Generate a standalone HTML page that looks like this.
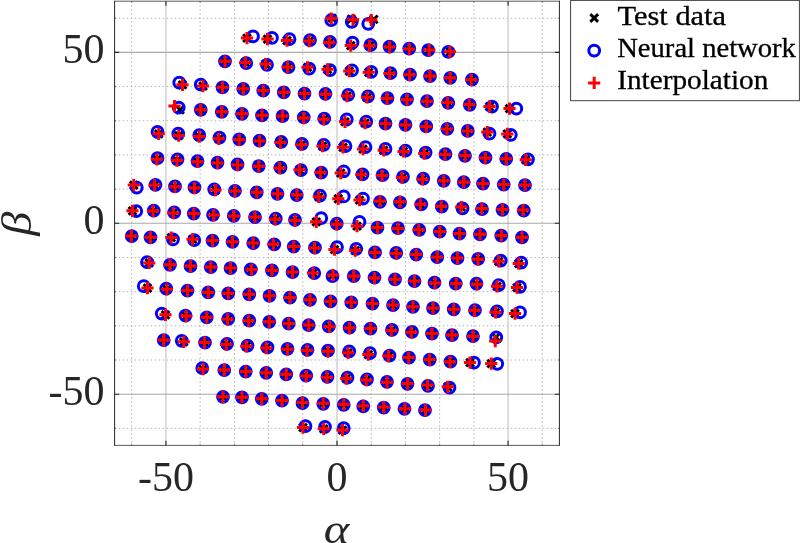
<!DOCTYPE html>
<html><head><meta charset="utf-8"><title>plot</title>
<style>html,body{margin:0;padding:0;background:#fff}svg{display:block}text{font-family:"Liberation Serif",serif;fill:#262626}</style></head>
<body>
<svg width="800" height="543" viewBox="0 0 800 543">
<rect width="800" height="543" fill="#fff"/>
<g stroke="#a6a6a6" stroke-width="0.8" stroke-dasharray="1.6 2.4" fill="none">
<path d="M131.71 1.2V445.4"/>
<path d="M114.6 428.38H559.4"/>
<path d="M200.14 1.2V445.4"/>
<path d="M114.6 360.02H559.4"/>
<path d="M234.36 1.2V445.4"/>
<path d="M114.6 325.84H559.4"/>
<path d="M268.57 1.2V445.4"/>
<path d="M114.6 291.66H559.4"/>
<path d="M302.78 1.2V445.4"/>
<path d="M114.6 257.48H559.4"/>
<path d="M371.22 1.2V445.4"/>
<path d="M114.6 189.12H559.4"/>
<path d="M405.43 1.2V445.4"/>
<path d="M114.6 154.94H559.4"/>
<path d="M439.64 1.2V445.4"/>
<path d="M114.6 120.76H559.4"/>
<path d="M473.86 1.2V445.4"/>
<path d="M114.6 86.58H559.4"/>
<path d="M542.29 1.2V445.4"/>
<path d="M114.6 18.22H559.4"/>
</g>
<g stroke="#c6c6c6" stroke-width="1.2" fill="none">
<path d="M165.93 1.2V445.4"/>
<path d="M337.00 1.2V445.4"/>
<path d="M508.07 1.2V445.4"/>
</g>
<g stroke="#a9a9a9" stroke-width="1.1" fill="none">
<path d="M114.6 394.20H559.4"/>
<path d="M114.6 223.30H559.4"/>
<path d="M114.6 52.40H559.4"/>
</g>
<path d="M328.10 14.20l7.8 7.8m0 -7.8l-7.8 7.8M347.60 15.20l7.8 7.8m0 -7.8l-7.8 7.8M369.85 15.45l7.8 7.8m0 -7.8l-7.8 7.8M243.10 34.20l7.8 7.8m0 -7.8l-7.8 7.8M263.60 35.20l7.8 7.8m0 -7.8l-7.8 7.8M283.10 36.70l7.8 7.8m0 -7.8l-7.8 7.8M305.35 37.20l7.8 7.8m0 -7.8l-7.8 7.8M325.35 38.70l7.8 7.8m0 -7.8l-7.8 7.8M346.85 41.70l7.8 7.8m0 -7.8l-7.8 7.8M365.60 41.90l7.8 7.8m0 -7.8l-7.8 7.8M385.60 43.20l7.8 7.8m0 -7.8l-7.8 7.8M405.35 45.20l7.8 7.8m0 -7.8l-7.8 7.8M425.35 46.20l7.8 7.8m0 -7.8l-7.8 7.8M446.10 47.95l7.8 7.8m0 -7.8l-7.8 7.8M221.10 57.45l7.8 7.8m0 -7.8l-7.8 7.8M241.30 58.50l7.8 7.8m0 -7.8l-7.8 7.8M261.70 60.20l7.8 7.8m0 -7.8l-7.8 7.8M283.60 63.20l7.8 7.8m0 -7.8l-7.8 7.8M303.60 63.45l7.8 7.8m0 -7.8l-7.8 7.8M323.60 65.45l7.8 7.8m0 -7.8l-7.8 7.8M345.35 67.20l7.8 7.8m0 -7.8l-7.8 7.8M364.85 68.45l7.8 7.8m0 -7.8l-7.8 7.8M385.60 69.70l7.8 7.8m0 -7.8l-7.8 7.8M405.60 70.95l7.8 7.8m0 -7.8l-7.8 7.8M426.10 72.20l7.8 7.8m0 -7.8l-7.8 7.8M446.35 73.95l7.8 7.8m0 -7.8l-7.8 7.8M467.35 75.95l7.8 7.8m0 -7.8l-7.8 7.8M178.60 80.95l7.8 7.8m0 -7.8l-7.8 7.8M199.10 82.20l7.8 7.8m0 -7.8l-7.8 7.8M218.60 83.45l7.8 7.8m0 -7.8l-7.8 7.8M239.35 84.95l7.8 7.8m0 -7.8l-7.8 7.8M259.35 86.70l7.8 7.8m0 -7.8l-7.8 7.8M279.85 88.45l7.8 7.8m0 -7.8l-7.8 7.8M300.60 89.70l7.8 7.8m0 -7.8l-7.8 7.8M321.60 90.45l7.8 7.8m0 -7.8l-7.8 7.8M343.10 92.20l7.8 7.8m0 -7.8l-7.8 7.8M363.10 93.45l7.8 7.8m0 -7.8l-7.8 7.8M383.10 94.70l7.8 7.8m0 -7.8l-7.8 7.8M403.10 95.95l7.8 7.8m0 -7.8l-7.8 7.8M423.10 97.45l7.8 7.8m0 -7.8l-7.8 7.8M443.60 98.70l7.8 7.8m0 -7.8l-7.8 7.8M465.35 100.70l7.8 7.8m0 -7.8l-7.8 7.8M485.60 102.70l7.8 7.8m0 -7.8l-7.8 7.8M505.60 104.70l7.8 7.8m0 -7.8l-7.8 7.8M176.10 105.95l7.8 7.8m0 -7.8l-7.8 7.8M196.85 105.95l7.8 7.8m0 -7.8l-7.8 7.8M217.85 107.95l7.8 7.8m0 -7.8l-7.8 7.8M238.10 109.95l7.8 7.8m0 -7.8l-7.8 7.8M258.10 111.45l7.8 7.8m0 -7.8l-7.8 7.8M278.60 112.20l7.8 7.8m0 -7.8l-7.8 7.8M299.85 114.20l7.8 7.8m0 -7.8l-7.8 7.8M319.85 115.45l7.8 7.8m0 -7.8l-7.8 7.8M341.10 117.95l7.8 7.8m0 -7.8l-7.8 7.8M361.10 119.20l7.8 7.8m0 -7.8l-7.8 7.8M381.60 119.95l7.8 7.8m0 -7.8l-7.8 7.8M401.60 121.20l7.8 7.8m0 -7.8l-7.8 7.8M422.35 122.95l7.8 7.8m0 -7.8l-7.8 7.8M443.10 125.20l7.8 7.8m0 -7.8l-7.8 7.8M463.60 127.20l7.8 7.8m0 -7.8l-7.8 7.8M483.40 128.20l7.8 7.8m0 -7.8l-7.8 7.8M503.40 130.00l7.8 7.8m0 -7.8l-7.8 7.8M154.85 129.95l7.8 7.8m0 -7.8l-7.8 7.8M174.85 131.70l7.8 7.8m0 -7.8l-7.8 7.8M195.35 132.70l7.8 7.8m0 -7.8l-7.8 7.8M214.85 134.95l7.8 7.8m0 -7.8l-7.8 7.8M235.35 135.95l7.8 7.8m0 -7.8l-7.8 7.8M255.60 137.20l7.8 7.8m0 -7.8l-7.8 7.8M276.60 138.70l7.8 7.8m0 -7.8l-7.8 7.8M297.35 140.95l7.8 7.8m0 -7.8l-7.8 7.8M318.60 142.20l7.8 7.8m0 -7.8l-7.8 7.8M339.10 143.45l7.8 7.8m0 -7.8l-7.8 7.8M359.10 145.20l7.8 7.8m0 -7.8l-7.8 7.8M379.80 146.40l7.8 7.8m0 -7.8l-7.8 7.8M399.70 147.50l7.8 7.8m0 -7.8l-7.8 7.8M420.35 149.70l7.8 7.8m0 -7.8l-7.8 7.8M441.10 150.70l7.8 7.8m0 -7.8l-7.8 7.8M461.10 151.70l7.8 7.8m0 -7.8l-7.8 7.8M481.35 154.20l7.8 7.8m0 -7.8l-7.8 7.8M502.35 154.95l7.8 7.8m0 -7.8l-7.8 7.8M521.85 155.95l7.8 7.8m0 -7.8l-7.8 7.8M153.10 155.45l7.8 7.8m0 -7.8l-7.8 7.8M173.10 156.70l7.8 7.8m0 -7.8l-7.8 7.8M193.60 157.95l7.8 7.8m0 -7.8l-7.8 7.8M213.60 159.20l7.8 7.8m0 -7.8l-7.8 7.8M233.60 161.20l7.8 7.8m0 -7.8l-7.8 7.8M254.85 162.45l7.8 7.8m0 -7.8l-7.8 7.8M275.60 164.20l7.8 7.8m0 -7.8l-7.8 7.8M295.60 165.95l7.8 7.8m0 -7.8l-7.8 7.8M316.60 168.70l7.8 7.8m0 -7.8l-7.8 7.8M336.85 169.20l7.8 7.8m0 -7.8l-7.8 7.8M357.35 170.95l7.8 7.8m0 -7.8l-7.8 7.8M378.10 171.70l7.8 7.8m0 -7.8l-7.8 7.8M398.10 173.70l7.8 7.8m0 -7.8l-7.8 7.8M418.60 175.45l7.8 7.8m0 -7.8l-7.8 7.8M439.85 176.95l7.8 7.8m0 -7.8l-7.8 7.8M459.85 178.20l7.8 7.8m0 -7.8l-7.8 7.8M479.10 179.70l7.8 7.8m0 -7.8l-7.8 7.8M499.85 180.70l7.8 7.8m0 -7.8l-7.8 7.8M521.10 181.20l7.8 7.8m0 -7.8l-7.8 7.8M129.85 181.20l7.8 7.8m0 -7.8l-7.8 7.8M150.60 181.20l7.8 7.8m0 -7.8l-7.8 7.8M171.10 182.95l7.8 7.8m0 -7.8l-7.8 7.8M190.60 184.20l7.8 7.8m0 -7.8l-7.8 7.8M211.60 186.20l7.8 7.8m0 -7.8l-7.8 7.8M231.10 187.20l7.8 7.8m0 -7.8l-7.8 7.8M252.85 188.45l7.8 7.8m0 -7.8l-7.8 7.8M273.60 189.95l7.8 7.8m0 -7.8l-7.8 7.8M293.10 190.95l7.8 7.8m0 -7.8l-7.8 7.8M314.85 192.95l7.8 7.8m0 -7.8l-7.8 7.8M334.35 194.90l7.8 7.8m0 -7.8l-7.8 7.8M355.60 196.20l7.8 7.8m0 -7.8l-7.8 7.8M376.10 197.20l7.8 7.8m0 -7.8l-7.8 7.8M396.10 197.95l7.8 7.8m0 -7.8l-7.8 7.8M416.60 200.45l7.8 7.8m0 -7.8l-7.8 7.8M437.35 202.45l7.8 7.8m0 -7.8l-7.8 7.8M457.35 203.20l7.8 7.8m0 -7.8l-7.8 7.8M477.85 204.70l7.8 7.8m0 -7.8l-7.8 7.8M498.60 205.45l7.8 7.8m0 -7.8l-7.8 7.8M519.10 206.20l7.8 7.8m0 -7.8l-7.8 7.8M128.60 206.95l7.8 7.8m0 -7.8l-7.8 7.8M149.10 207.20l7.8 7.8m0 -7.8l-7.8 7.8M169.35 209.20l7.8 7.8m0 -7.8l-7.8 7.8M189.85 209.70l7.8 7.8m0 -7.8l-7.8 7.8M209.85 211.20l7.8 7.8m0 -7.8l-7.8 7.8M229.85 212.20l7.8 7.8m0 -7.8l-7.8 7.8M251.10 213.20l7.8 7.8m0 -7.8l-7.8 7.8M271.10 215.45l7.8 7.8m0 -7.8l-7.8 7.8M291.10 216.70l7.8 7.8m0 -7.8l-7.8 7.8M312.35 217.95l7.8 7.8m0 -7.8l-7.8 7.8M332.85 220.45l7.8 7.8m0 -7.8l-7.8 7.8M353.10 222.20l7.8 7.8m0 -7.8l-7.8 7.8M373.60 223.70l7.8 7.8m0 -7.8l-7.8 7.8M394.10 224.70l7.8 7.8m0 -7.8l-7.8 7.8M414.85 225.95l7.8 7.8m0 -7.8l-7.8 7.8M435.85 227.70l7.8 7.8m0 -7.8l-7.8 7.8M455.60 229.70l7.8 7.8m0 -7.8l-7.8 7.8M476.10 230.45l7.8 7.8m0 -7.8l-7.8 7.8M497.35 231.70l7.8 7.8m0 -7.8l-7.8 7.8M518.10 233.45l7.8 7.8m0 -7.8l-7.8 7.8M127.35 232.20l7.8 7.8m0 -7.8l-7.8 7.8M146.60 233.45l7.8 7.8m0 -7.8l-7.8 7.8M167.35 233.70l7.8 7.8m0 -7.8l-7.8 7.8M188.60 235.45l7.8 7.8m0 -7.8l-7.8 7.8M208.60 236.70l7.8 7.8m0 -7.8l-7.8 7.8M228.60 237.95l7.8 7.8m0 -7.8l-7.8 7.8M249.35 239.20l7.8 7.8m0 -7.8l-7.8 7.8M269.35 240.45l7.8 7.8m0 -7.8l-7.8 7.8M289.85 242.70l7.8 7.8m0 -7.8l-7.8 7.8M310.60 244.20l7.8 7.8m0 -7.8l-7.8 7.8M330.60 245.70l7.8 7.8m0 -7.8l-7.8 7.8M351.35 246.70l7.8 7.8m0 -7.8l-7.8 7.8M371.10 248.70l7.8 7.8m0 -7.8l-7.8 7.8M392.35 249.70l7.8 7.8m0 -7.8l-7.8 7.8M412.35 250.70l7.8 7.8m0 -7.8l-7.8 7.8M433.35 253.20l7.8 7.8m0 -7.8l-7.8 7.8M453.60 254.20l7.8 7.8m0 -7.8l-7.8 7.8M474.10 255.45l7.8 7.8m0 -7.8l-7.8 7.8M494.85 257.45l7.8 7.8m0 -7.8l-7.8 7.8M514.85 259.70l7.8 7.8m0 -7.8l-7.8 7.8M145.30 259.00l7.8 7.8m0 -7.8l-7.8 7.8M166.10 260.95l7.8 7.8m0 -7.8l-7.8 7.8M186.60 262.20l7.8 7.8m0 -7.8l-7.8 7.8M206.85 263.20l7.8 7.8m0 -7.8l-7.8 7.8M226.60 264.20l7.8 7.8m0 -7.8l-7.8 7.8M247.60 265.70l7.8 7.8m0 -7.8l-7.8 7.8M268.10 266.45l7.8 7.8m0 -7.8l-7.8 7.8M288.60 268.20l7.8 7.8m0 -7.8l-7.8 7.8M309.10 269.20l7.8 7.8m0 -7.8l-7.8 7.8M329.10 271.20l7.8 7.8m0 -7.8l-7.8 7.8M349.85 272.20l7.8 7.8m0 -7.8l-7.8 7.8M370.60 274.20l7.8 7.8m0 -7.8l-7.8 7.8M391.10 275.45l7.8 7.8m0 -7.8l-7.8 7.8M410.60 277.20l7.8 7.8m0 -7.8l-7.8 7.8M431.10 279.20l7.8 7.8m0 -7.8l-7.8 7.8M452.35 279.70l7.8 7.8m0 -7.8l-7.8 7.8M473.10 280.45l7.8 7.8m0 -7.8l-7.8 7.8M493.10 282.45l7.8 7.8m0 -7.8l-7.8 7.8M513.10 283.70l7.8 7.8m0 -7.8l-7.8 7.8M143.60 284.20l7.8 7.8m0 -7.8l-7.8 7.8M163.10 285.45l7.8 7.8m0 -7.8l-7.8 7.8M183.60 286.70l7.8 7.8m0 -7.8l-7.8 7.8M204.35 288.45l7.8 7.8m0 -7.8l-7.8 7.8M224.35 289.45l7.8 7.8m0 -7.8l-7.8 7.8M245.35 290.45l7.8 7.8m0 -7.8l-7.8 7.8M265.60 291.95l7.8 7.8m0 -7.8l-7.8 7.8M286.10 293.70l7.8 7.8m0 -7.8l-7.8 7.8M306.10 295.95l7.8 7.8m0 -7.8l-7.8 7.8M326.60 297.45l7.8 7.8m0 -7.8l-7.8 7.8M347.35 298.45l7.8 7.8m0 -7.8l-7.8 7.8M368.60 299.70l7.8 7.8m0 -7.8l-7.8 7.8M389.10 301.20l7.8 7.8m0 -7.8l-7.8 7.8M409.10 302.95l7.8 7.8m0 -7.8l-7.8 7.8M429.10 304.20l7.8 7.8m0 -7.8l-7.8 7.8M449.85 305.45l7.8 7.8m0 -7.8l-7.8 7.8M470.60 306.70l7.8 7.8m0 -7.8l-7.8 7.8M491.60 308.45l7.8 7.8m0 -7.8l-7.8 7.8M511.10 309.70l7.8 7.8m0 -7.8l-7.8 7.8M161.60 310.95l7.8 7.8m0 -7.8l-7.8 7.8M182.35 312.20l7.8 7.8m0 -7.8l-7.8 7.8M202.85 313.45l7.8 7.8m0 -7.8l-7.8 7.8M223.60 315.45l7.8 7.8m0 -7.8l-7.8 7.8M244.85 316.95l7.8 7.8m0 -7.8l-7.8 7.8M265.35 317.95l7.8 7.8m0 -7.8l-7.8 7.8M284.85 319.70l7.8 7.8m0 -7.8l-7.8 7.8M304.85 321.20l7.8 7.8m0 -7.8l-7.8 7.8M325.60 322.95l7.8 7.8m0 -7.8l-7.8 7.8M345.60 324.20l7.8 7.8m0 -7.8l-7.8 7.8M366.60 324.70l7.8 7.8m0 -7.8l-7.8 7.8M387.35 326.70l7.8 7.8m0 -7.8l-7.8 7.8M407.35 328.45l7.8 7.8m0 -7.8l-7.8 7.8M428.10 329.70l7.8 7.8m0 -7.8l-7.8 7.8M448.10 331.20l7.8 7.8m0 -7.8l-7.8 7.8M469.10 332.45l7.8 7.8m0 -7.8l-7.8 7.8M492.10 333.20l7.8 7.8m0 -7.8l-7.8 7.8M159.85 336.20l7.8 7.8m0 -7.8l-7.8 7.8M179.85 337.95l7.8 7.8m0 -7.8l-7.8 7.8M200.60 338.70l7.8 7.8m0 -7.8l-7.8 7.8M222.35 340.70l7.8 7.8m0 -7.8l-7.8 7.8M242.35 342.45l7.8 7.8m0 -7.8l-7.8 7.8M262.35 344.20l7.8 7.8m0 -7.8l-7.8 7.8M283.60 345.45l7.8 7.8m0 -7.8l-7.8 7.8M303.10 346.70l7.8 7.8m0 -7.8l-7.8 7.8M324.10 347.45l7.8 7.8m0 -7.8l-7.8 7.8M344.20 348.90l7.8 7.8m0 -7.8l-7.8 7.8M364.40 350.70l7.8 7.8m0 -7.8l-7.8 7.8M384.50 352.20l7.8 7.8m0 -7.8l-7.8 7.8M404.85 353.70l7.8 7.8m0 -7.8l-7.8 7.8M425.60 355.70l7.8 7.8m0 -7.8l-7.8 7.8M446.10 357.95l7.8 7.8m0 -7.8l-7.8 7.8M466.10 358.70l7.8 7.8m0 -7.8l-7.8 7.8M487.35 359.70l7.8 7.8m0 -7.8l-7.8 7.8M199.10 365.20l7.8 7.8m0 -7.8l-7.8 7.8M220.35 366.20l7.8 7.8m0 -7.8l-7.8 7.8M241.85 367.70l7.8 7.8m0 -7.8l-7.8 7.8M262.35 368.95l7.8 7.8m0 -7.8l-7.8 7.8M282.35 370.45l7.8 7.8m0 -7.8l-7.8 7.8M302.35 372.20l7.8 7.8m0 -7.8l-7.8 7.8M323.10 373.45l7.8 7.8m0 -7.8l-7.8 7.8M342.35 374.70l7.8 7.8m0 -7.8l-7.8 7.8M362.35 376.20l7.8 7.8m0 -7.8l-7.8 7.8M383.10 378.45l7.8 7.8m0 -7.8l-7.8 7.8M403.60 379.70l7.8 7.8m0 -7.8l-7.8 7.8M423.60 381.20l7.8 7.8m0 -7.8l-7.8 7.8M443.85 382.95l7.8 7.8m0 -7.8l-7.8 7.8M219.10 392.95l7.8 7.8m0 -7.8l-7.8 7.8M238.10 393.45l7.8 7.8m0 -7.8l-7.8 7.8M257.85 394.95l7.8 7.8m0 -7.8l-7.8 7.8M278.10 396.70l7.8 7.8m0 -7.8l-7.8 7.8M298.60 398.70l7.8 7.8m0 -7.8l-7.8 7.8M319.35 399.45l7.8 7.8m0 -7.8l-7.8 7.8M339.85 400.45l7.8 7.8m0 -7.8l-7.8 7.8M359.35 401.95l7.8 7.8m0 -7.8l-7.8 7.8M379.85 403.20l7.8 7.8m0 -7.8l-7.8 7.8M401.10 404.95l7.8 7.8m0 -7.8l-7.8 7.8M421.60 406.20l7.8 7.8m0 -7.8l-7.8 7.8M299.10 423.70l7.8 7.8m0 -7.8l-7.8 7.8M319.85 424.95l7.8 7.8m0 -7.8l-7.8 7.8M338.60 426.20l7.8 7.8m0 -7.8l-7.8 7.8" stroke="#000" stroke-width="2.9" fill="none"/>
<g stroke="#0000ff" stroke-width="3" fill="none">
<circle cx="331.25" cy="20.10" r="5.4"/>
<circle cx="351.75" cy="21.85" r="5.4"/>
<circle cx="368.25" cy="23.85" r="5.4"/>
<circle cx="253.00" cy="36.35" r="5.4"/>
<circle cx="272.00" cy="37.85" r="5.4"/>
<circle cx="289.50" cy="39.10" r="5.4"/>
<circle cx="310.00" cy="40.10" r="5.4"/>
<circle cx="330.00" cy="41.85" r="5.4"/>
<circle cx="352.50" cy="42.60" r="5.4"/>
<circle cx="370.50" cy="45.00" r="5.4"/>
<circle cx="389.50" cy="46.60" r="5.4"/>
<circle cx="409.25" cy="48.60" r="5.4"/>
<circle cx="428.25" cy="50.10" r="5.4"/>
<circle cx="448.25" cy="51.85" r="5.4"/>
<circle cx="225.00" cy="61.35" r="5.4"/>
<circle cx="246.25" cy="63.10" r="5.4"/>
<circle cx="267.00" cy="64.85" r="5.4"/>
<circle cx="288.50" cy="67.10" r="5.4"/>
<circle cx="309.25" cy="68.60" r="5.4"/>
<circle cx="330.00" cy="70.10" r="5.4"/>
<circle cx="352.00" cy="70.35" r="5.4"/>
<circle cx="371.25" cy="71.85" r="5.4"/>
<circle cx="390.50" cy="73.10" r="5.4"/>
<circle cx="410.00" cy="74.60" r="5.4"/>
<circle cx="430.00" cy="76.10" r="5.4"/>
<circle cx="450.25" cy="77.85" r="5.4"/>
<circle cx="472.00" cy="79.60" r="5.4"/>
<circle cx="179.25" cy="82.60" r="5.4"/>
<circle cx="200.75" cy="84.60" r="5.4"/>
<circle cx="222.50" cy="87.35" r="5.4"/>
<circle cx="243.25" cy="88.85" r="5.4"/>
<circle cx="263.25" cy="90.60" r="5.4"/>
<circle cx="283.75" cy="92.35" r="5.4"/>
<circle cx="304.50" cy="93.60" r="5.4"/>
<circle cx="325.50" cy="93.85" r="5.4"/>
<circle cx="348.25" cy="94.85" r="5.4"/>
<circle cx="368.00" cy="96.35" r="5.4"/>
<circle cx="387.50" cy="98.10" r="5.4"/>
<circle cx="407.00" cy="99.35" r="5.4"/>
<circle cx="427.00" cy="101.10" r="5.4"/>
<circle cx="448.25" cy="102.85" r="5.4"/>
<circle cx="469.75" cy="104.85" r="5.4"/>
<circle cx="492.00" cy="106.60" r="5.4"/>
<circle cx="516.30" cy="108.60" r="5.4"/>
<circle cx="178.75" cy="107.60" r="5.4"/>
<circle cx="200.75" cy="109.85" r="5.4"/>
<circle cx="221.75" cy="111.85" r="5.4"/>
<circle cx="242.00" cy="113.85" r="5.4"/>
<circle cx="262.00" cy="115.35" r="5.4"/>
<circle cx="282.50" cy="116.10" r="5.4"/>
<circle cx="303.75" cy="117.35" r="5.4"/>
<circle cx="324.25" cy="118.60" r="5.4"/>
<circle cx="346.75" cy="119.35" r="5.4"/>
<circle cx="366.25" cy="121.60" r="5.4"/>
<circle cx="385.50" cy="123.60" r="5.4"/>
<circle cx="405.50" cy="124.85" r="5.4"/>
<circle cx="426.25" cy="126.35" r="5.4"/>
<circle cx="447.30" cy="128.80" r="5.4"/>
<circle cx="467.80" cy="130.90" r="5.4"/>
<circle cx="489.50" cy="133.60" r="5.4"/>
<circle cx="510.80" cy="134.80" r="5.4"/>
<circle cx="157.50" cy="131.85" r="5.4"/>
<circle cx="178.25" cy="133.60" r="5.4"/>
<circle cx="199.25" cy="135.10" r="5.4"/>
<circle cx="219.50" cy="137.60" r="5.4"/>
<circle cx="239.25" cy="139.35" r="5.4"/>
<circle cx="259.50" cy="140.60" r="5.4"/>
<circle cx="281.25" cy="141.85" r="5.4"/>
<circle cx="302.00" cy="143.85" r="5.4"/>
<circle cx="323.75" cy="144.85" r="5.4"/>
<circle cx="345.50" cy="146.10" r="5.4"/>
<circle cx="365.50" cy="147.10" r="5.4"/>
<circle cx="385.50" cy="148.90" r="5.4"/>
<circle cx="405.50" cy="150.60" r="5.4"/>
<circle cx="425.60" cy="152.60" r="5.4"/>
<circle cx="445.50" cy="154.10" r="5.4"/>
<circle cx="465.00" cy="155.85" r="5.4"/>
<circle cx="485.50" cy="157.60" r="5.4"/>
<circle cx="506.25" cy="158.85" r="5.4"/>
<circle cx="528.00" cy="159.35" r="5.4"/>
<circle cx="157.50" cy="158.10" r="5.4"/>
<circle cx="177.50" cy="159.35" r="5.4"/>
<circle cx="197.50" cy="161.10" r="5.4"/>
<circle cx="217.50" cy="162.60" r="5.4"/>
<circle cx="237.50" cy="164.35" r="5.4"/>
<circle cx="258.75" cy="166.10" r="5.4"/>
<circle cx="280.50" cy="167.60" r="5.4"/>
<circle cx="301.00" cy="170.10" r="5.4"/>
<circle cx="321.25" cy="172.60" r="5.4"/>
<circle cx="343.75" cy="171.35" r="5.4"/>
<circle cx="362.50" cy="174.35" r="5.4"/>
<circle cx="382.50" cy="175.10" r="5.4"/>
<circle cx="403.00" cy="176.85" r="5.4"/>
<circle cx="423.25" cy="178.60" r="5.4"/>
<circle cx="443.75" cy="180.85" r="5.4"/>
<circle cx="463.75" cy="182.10" r="5.4"/>
<circle cx="483.00" cy="183.60" r="5.4"/>
<circle cx="503.75" cy="184.60" r="5.4"/>
<circle cx="525.00" cy="185.10" r="5.4"/>
<circle cx="136.75" cy="187.60" r="5.4"/>
<circle cx="155.50" cy="184.85" r="5.4"/>
<circle cx="175.00" cy="186.35" r="5.4"/>
<circle cx="194.50" cy="187.35" r="5.4"/>
<circle cx="214.25" cy="189.35" r="5.4"/>
<circle cx="235.00" cy="190.85" r="5.4"/>
<circle cx="256.75" cy="192.35" r="5.4"/>
<circle cx="277.50" cy="193.85" r="5.4"/>
<circle cx="296.75" cy="195.10" r="5.4"/>
<circle cx="320.00" cy="195.60" r="5.4"/>
<circle cx="343.75" cy="196.40" r="5.4"/>
<circle cx="363.00" cy="198.60" r="5.4"/>
<circle cx="380.00" cy="201.85" r="5.4"/>
<circle cx="400.00" cy="202.35" r="5.4"/>
<circle cx="421.25" cy="204.35" r="5.4"/>
<circle cx="441.75" cy="206.60" r="5.4"/>
<circle cx="462.50" cy="208.35" r="5.4"/>
<circle cx="482.00" cy="209.10" r="5.4"/>
<circle cx="502.50" cy="209.85" r="5.4"/>
<circle cx="523.75" cy="210.60" r="5.4"/>
<circle cx="136.25" cy="211.10" r="5.4"/>
<circle cx="153.75" cy="210.60" r="5.4"/>
<circle cx="174.25" cy="212.35" r="5.4"/>
<circle cx="193.75" cy="213.60" r="5.4"/>
<circle cx="213.00" cy="214.85" r="5.4"/>
<circle cx="233.75" cy="215.85" r="5.4"/>
<circle cx="255.00" cy="217.10" r="5.4"/>
<circle cx="275.75" cy="218.60" r="5.4"/>
<circle cx="295.00" cy="219.85" r="5.4"/>
<circle cx="321.25" cy="218.10" r="5.4"/>
<circle cx="336.75" cy="223.60" r="5.4"/>
<circle cx="359.50" cy="221.85" r="5.4"/>
<circle cx="377.50" cy="227.60" r="5.4"/>
<circle cx="398.00" cy="228.10" r="5.4"/>
<circle cx="419.25" cy="229.85" r="5.4"/>
<circle cx="439.75" cy="231.60" r="5.4"/>
<circle cx="459.50" cy="233.60" r="5.4"/>
<circle cx="480.00" cy="234.35" r="5.4"/>
<circle cx="501.25" cy="235.60" r="5.4"/>
<circle cx="522.00" cy="237.35" r="5.4"/>
<circle cx="131.75" cy="236.10" r="5.4"/>
<circle cx="150.50" cy="237.35" r="5.4"/>
<circle cx="173.00" cy="239.35" r="5.4"/>
<circle cx="194.25" cy="240.10" r="5.4"/>
<circle cx="212.50" cy="240.60" r="5.4"/>
<circle cx="232.50" cy="241.85" r="5.4"/>
<circle cx="253.25" cy="243.10" r="5.4"/>
<circle cx="274.25" cy="244.35" r="5.4"/>
<circle cx="293.75" cy="246.60" r="5.4"/>
<circle cx="315.00" cy="247.60" r="5.4"/>
<circle cx="337.00" cy="247.10" r="5.4"/>
<circle cx="356.25" cy="248.85" r="5.4"/>
<circle cx="375.00" cy="252.35" r="5.4"/>
<circle cx="396.25" cy="252.85" r="5.4"/>
<circle cx="416.25" cy="254.60" r="5.4"/>
<circle cx="437.25" cy="257.10" r="5.4"/>
<circle cx="457.50" cy="258.10" r="5.4"/>
<circle cx="478.25" cy="258.85" r="5.4"/>
<circle cx="500.75" cy="260.60" r="5.4"/>
<circle cx="521.25" cy="262.60" r="5.4"/>
<circle cx="147.00" cy="262.20" r="5.4"/>
<circle cx="170.00" cy="264.85" r="5.4"/>
<circle cx="190.50" cy="266.10" r="5.4"/>
<circle cx="210.75" cy="267.10" r="5.4"/>
<circle cx="230.50" cy="268.10" r="5.4"/>
<circle cx="250.75" cy="269.35" r="5.4"/>
<circle cx="272.00" cy="270.35" r="5.4"/>
<circle cx="292.50" cy="272.10" r="5.4"/>
<circle cx="314.25" cy="273.10" r="5.4"/>
<circle cx="332.50" cy="276.10" r="5.4"/>
<circle cx="353.75" cy="276.10" r="5.4"/>
<circle cx="374.50" cy="277.60" r="5.4"/>
<circle cx="395.00" cy="279.35" r="5.4"/>
<circle cx="414.50" cy="281.10" r="5.4"/>
<circle cx="434.50" cy="282.60" r="5.4"/>
<circle cx="455.75" cy="283.60" r="5.4"/>
<circle cx="476.50" cy="283.60" r="5.4"/>
<circle cx="498.75" cy="285.10" r="5.4"/>
<circle cx="520.00" cy="286.85" r="5.4"/>
<circle cx="143.75" cy="286.10" r="5.4"/>
<circle cx="166.25" cy="288.60" r="5.4"/>
<circle cx="187.50" cy="290.60" r="5.4"/>
<circle cx="208.25" cy="292.35" r="5.4"/>
<circle cx="228.25" cy="293.35" r="5.4"/>
<circle cx="249.25" cy="294.35" r="5.4"/>
<circle cx="269.50" cy="295.85" r="5.4"/>
<circle cx="290.00" cy="297.60" r="5.4"/>
<circle cx="310.00" cy="299.85" r="5.4"/>
<circle cx="330.50" cy="301.35" r="5.4"/>
<circle cx="351.25" cy="302.35" r="5.4"/>
<circle cx="372.50" cy="303.60" r="5.4"/>
<circle cx="393.00" cy="305.10" r="5.4"/>
<circle cx="413.00" cy="306.85" r="5.4"/>
<circle cx="433.00" cy="308.10" r="5.4"/>
<circle cx="453.75" cy="309.35" r="5.4"/>
<circle cx="475.00" cy="310.10" r="5.4"/>
<circle cx="497.00" cy="311.35" r="5.4"/>
<circle cx="520.00" cy="312.35" r="5.4"/>
<circle cx="161.75" cy="313.60" r="5.4"/>
<circle cx="185.50" cy="315.60" r="5.4"/>
<circle cx="206.75" cy="317.35" r="5.4"/>
<circle cx="228.25" cy="318.85" r="5.4"/>
<circle cx="249.25" cy="320.60" r="5.4"/>
<circle cx="269.25" cy="321.85" r="5.4"/>
<circle cx="288.75" cy="323.60" r="5.4"/>
<circle cx="308.75" cy="325.10" r="5.4"/>
<circle cx="328.75" cy="326.35" r="5.4"/>
<circle cx="349.50" cy="327.60" r="5.4"/>
<circle cx="370.50" cy="328.60" r="5.4"/>
<circle cx="392.00" cy="329.85" r="5.4"/>
<circle cx="412.00" cy="331.85" r="5.4"/>
<circle cx="432.00" cy="333.60" r="5.4"/>
<circle cx="452.00" cy="335.10" r="5.4"/>
<circle cx="473.00" cy="336.10" r="5.4"/>
<circle cx="496.25" cy="337.35" r="5.4"/>
<circle cx="163.75" cy="340.10" r="5.4"/>
<circle cx="181.75" cy="340.85" r="5.4"/>
<circle cx="205.00" cy="342.60" r="5.4"/>
<circle cx="227.00" cy="343.85" r="5.4"/>
<circle cx="247.50" cy="345.60" r="5.4"/>
<circle cx="267.50" cy="347.35" r="5.4"/>
<circle cx="287.50" cy="348.85" r="5.4"/>
<circle cx="307.50" cy="349.85" r="5.4"/>
<circle cx="328.00" cy="350.60" r="5.4"/>
<circle cx="349.25" cy="351.35" r="5.4"/>
<circle cx="370.00" cy="353.10" r="5.4"/>
<circle cx="389.50" cy="355.60" r="5.4"/>
<circle cx="409.00" cy="357.60" r="5.4"/>
<circle cx="429.75" cy="359.60" r="5.4"/>
<circle cx="450.50" cy="361.60" r="5.4"/>
<circle cx="474.00" cy="362.60" r="5.4"/>
<circle cx="497.25" cy="363.85" r="5.4"/>
<circle cx="202.25" cy="368.10" r="5.4"/>
<circle cx="224.25" cy="370.10" r="5.4"/>
<circle cx="245.75" cy="371.60" r="5.4"/>
<circle cx="266.25" cy="372.85" r="5.4"/>
<circle cx="286.25" cy="374.35" r="5.4"/>
<circle cx="306.25" cy="375.60" r="5.4"/>
<circle cx="327.50" cy="376.85" r="5.4"/>
<circle cx="347.50" cy="377.60" r="5.4"/>
<circle cx="367.00" cy="379.35" r="5.4"/>
<circle cx="387.00" cy="381.85" r="5.4"/>
<circle cx="407.50" cy="383.85" r="5.4"/>
<circle cx="428.00" cy="385.85" r="5.4"/>
<circle cx="449.50" cy="387.60" r="5.4"/>
<circle cx="223.00" cy="396.85" r="5.4"/>
<circle cx="242.00" cy="397.35" r="5.4"/>
<circle cx="261.75" cy="398.85" r="5.4"/>
<circle cx="282.00" cy="400.60" r="5.4"/>
<circle cx="302.50" cy="403.10" r="5.4"/>
<circle cx="323.25" cy="403.85" r="5.4"/>
<circle cx="343.75" cy="404.85" r="5.4"/>
<circle cx="363.25" cy="406.35" r="5.4"/>
<circle cx="383.75" cy="407.60" r="5.4"/>
<circle cx="404.50" cy="408.85" r="5.4"/>
<circle cx="425.00" cy="410.10" r="5.4"/>
<circle cx="305.50" cy="426.10" r="5.4"/>
<circle cx="325.00" cy="426.85" r="5.4"/>
<circle cx="343.75" cy="428.10" r="5.4"/>
</g>
<path d="M325.15 18.60h12.2M331.25 12.50v12.2M346.90 19.85h12.2M353.00 13.75v12.2M365.15 20.10h12.2M371.25 14.00v12.2M240.90 38.10h12.2M247.00 32.00v12.2M261.40 39.10h12.2M267.50 33.00v12.2M280.90 40.60h12.2M287.00 34.50v12.2M303.15 41.10h12.2M309.25 35.00v12.2M323.15 42.60h12.2M329.25 36.50v12.2M344.65 45.60h12.2M350.75 39.50v12.2M363.40 45.80h12.2M369.50 39.70v12.2M383.40 47.10h12.2M389.50 41.00v12.2M403.15 49.10h12.2M409.25 43.00v12.2M423.15 50.10h12.2M429.25 44.00v12.2M443.90 51.85h12.2M450.00 45.75v12.2M218.90 61.35h12.2M225.00 55.25v12.2M239.10 62.40h12.2M245.20 56.30v12.2M259.50 64.10h12.2M265.60 58.00v12.2M281.40 67.10h12.2M287.50 61.00v12.2M301.40 67.35h12.2M307.50 61.25v12.2M321.40 69.35h12.2M327.50 63.25v12.2M343.15 71.10h12.2M349.25 65.00v12.2M362.65 72.35h12.2M368.75 66.25v12.2M383.40 73.60h12.2M389.50 67.50v12.2M403.40 74.85h12.2M409.50 68.75v12.2M423.90 76.10h12.2M430.00 70.00v12.2M444.15 77.85h12.2M450.25 71.75v12.2M465.15 79.85h12.2M471.25 73.75v12.2M176.40 84.85h12.2M182.50 78.75v12.2M196.90 86.10h12.2M203.00 80.00v12.2M216.40 87.35h12.2M222.50 81.25v12.2M237.15 88.85h12.2M243.25 82.75v12.2M257.15 90.60h12.2M263.25 84.50v12.2M277.65 92.35h12.2M283.75 86.25v12.2M298.40 93.60h12.2M304.50 87.50v12.2M319.40 94.35h12.2M325.50 88.25v12.2M340.90 96.10h12.2M347.00 90.00v12.2M360.90 97.35h12.2M367.00 91.25v12.2M380.90 98.60h12.2M387.00 92.50v12.2M400.90 99.85h12.2M407.00 93.75v12.2M420.90 101.35h12.2M427.00 95.25v12.2M441.40 102.60h12.2M447.50 96.50v12.2M463.15 104.60h12.2M469.25 98.50v12.2M483.40 106.60h12.2M489.50 100.50v12.2M503.40 108.60h12.2M509.50 102.50v12.2M168.40 106.10h12.2M174.50 100.00v12.2M194.65 109.85h12.2M200.75 103.75v12.2M215.65 111.85h12.2M221.75 105.75v12.2M235.90 113.85h12.2M242.00 107.75v12.2M255.90 115.35h12.2M262.00 109.25v12.2M276.40 116.10h12.2M282.50 110.00v12.2M297.65 118.10h12.2M303.75 112.00v12.2M317.65 119.35h12.2M323.75 113.25v12.2M338.90 121.85h12.2M345.00 115.75v12.2M358.90 123.10h12.2M365.00 117.00v12.2M379.40 123.85h12.2M385.50 117.75v12.2M399.40 125.10h12.2M405.50 119.00v12.2M420.15 126.85h12.2M426.25 120.75v12.2M440.90 129.10h12.2M447.00 123.00v12.2M461.40 131.10h12.2M467.50 125.00v12.2M481.20 132.10h12.2M487.30 126.00v12.2M501.20 133.90h12.2M507.30 127.80v12.2M152.65 133.85h12.2M158.75 127.75v12.2M172.65 135.60h12.2M178.75 129.50v12.2M193.15 136.60h12.2M199.25 130.50v12.2M212.65 138.85h12.2M218.75 132.75v12.2M233.15 139.85h12.2M239.25 133.75v12.2M253.40 141.10h12.2M259.50 135.00v12.2M274.40 142.60h12.2M280.50 136.50v12.2M295.15 144.85h12.2M301.25 138.75v12.2M316.40 146.10h12.2M322.50 140.00v12.2M336.90 147.35h12.2M343.00 141.25v12.2M356.90 149.10h12.2M363.00 143.00v12.2M377.60 150.30h12.2M383.70 144.20v12.2M397.50 151.40h12.2M403.60 145.30v12.2M418.15 153.60h12.2M424.25 147.50v12.2M438.90 154.60h12.2M445.00 148.50v12.2M458.90 155.60h12.2M465.00 149.50v12.2M479.15 158.10h12.2M485.25 152.00v12.2M500.15 158.85h12.2M506.25 152.75v12.2M519.65 159.85h12.2M525.75 153.75v12.2M150.90 159.35h12.2M157.00 153.25v12.2M170.90 160.60h12.2M177.00 154.50v12.2M191.40 161.85h12.2M197.50 155.75v12.2M211.40 163.10h12.2M217.50 157.00v12.2M231.40 165.10h12.2M237.50 159.00v12.2M252.65 166.35h12.2M258.75 160.25v12.2M273.40 168.10h12.2M279.50 162.00v12.2M293.40 169.85h12.2M299.50 163.75v12.2M314.40 172.60h12.2M320.50 166.50v12.2M334.65 173.10h12.2M340.75 167.00v12.2M355.15 174.85h12.2M361.25 168.75v12.2M375.90 175.60h12.2M382.00 169.50v12.2M395.90 177.60h12.2M402.00 171.50v12.2M416.40 179.35h12.2M422.50 173.25v12.2M437.65 180.85h12.2M443.75 174.75v12.2M457.65 182.10h12.2M463.75 176.00v12.2M476.90 183.60h12.2M483.00 177.50v12.2M497.65 184.60h12.2M503.75 178.50v12.2M518.90 185.10h12.2M525.00 179.00v12.2M127.65 185.10h12.2M133.75 179.00v12.2M148.40 185.10h12.2M154.50 179.00v12.2M168.90 186.85h12.2M175.00 180.75v12.2M188.40 188.10h12.2M194.50 182.00v12.2M209.40 190.10h12.2M215.50 184.00v12.2M228.90 191.10h12.2M235.00 185.00v12.2M250.65 192.35h12.2M256.75 186.25v12.2M271.40 193.85h12.2M277.50 187.75v12.2M290.90 194.85h12.2M297.00 188.75v12.2M312.65 196.85h12.2M318.75 190.75v12.2M332.15 198.80h12.2M338.25 192.70v12.2M353.40 200.10h12.2M359.50 194.00v12.2M373.90 201.10h12.2M380.00 195.00v12.2M393.90 201.85h12.2M400.00 195.75v12.2M414.40 204.35h12.2M420.50 198.25v12.2M435.15 206.35h12.2M441.25 200.25v12.2M455.15 207.10h12.2M461.25 201.00v12.2M475.65 208.60h12.2M481.75 202.50v12.2M496.40 209.35h12.2M502.50 203.25v12.2M516.90 210.10h12.2M523.00 204.00v12.2M126.40 210.85h12.2M132.50 204.75v12.2M146.90 211.10h12.2M153.00 205.00v12.2M167.15 213.10h12.2M173.25 207.00v12.2M187.65 213.60h12.2M193.75 207.50v12.2M207.65 215.10h12.2M213.75 209.00v12.2M227.65 216.10h12.2M233.75 210.00v12.2M248.90 217.10h12.2M255.00 211.00v12.2M268.90 219.35h12.2M275.00 213.25v12.2M288.90 220.60h12.2M295.00 214.50v12.2M310.15 221.85h12.2M316.25 215.75v12.2M330.65 224.35h12.2M336.75 218.25v12.2M350.90 226.10h12.2M357.00 220.00v12.2M371.40 227.60h12.2M377.50 221.50v12.2M391.90 228.60h12.2M398.00 222.50v12.2M412.65 229.85h12.2M418.75 223.75v12.2M433.65 231.60h12.2M439.75 225.50v12.2M453.40 233.60h12.2M459.50 227.50v12.2M473.90 234.35h12.2M480.00 228.25v12.2M495.15 235.60h12.2M501.25 229.50v12.2M515.90 237.35h12.2M522.00 231.25v12.2M125.15 236.10h12.2M131.25 230.00v12.2M144.40 237.35h12.2M150.50 231.25v12.2M165.15 237.60h12.2M171.25 231.50v12.2M186.40 239.35h12.2M192.50 233.25v12.2M206.40 240.60h12.2M212.50 234.50v12.2M226.40 241.85h12.2M232.50 235.75v12.2M247.15 243.10h12.2M253.25 237.00v12.2M267.15 244.35h12.2M273.25 238.25v12.2M287.65 246.60h12.2M293.75 240.50v12.2M308.40 248.10h12.2M314.50 242.00v12.2M328.40 249.60h12.2M334.50 243.50v12.2M349.15 250.60h12.2M355.25 244.50v12.2M368.90 252.60h12.2M375.00 246.50v12.2M390.15 253.60h12.2M396.25 247.50v12.2M410.15 254.60h12.2M416.25 248.50v12.2M431.15 257.10h12.2M437.25 251.00v12.2M451.40 258.10h12.2M457.50 252.00v12.2M471.90 259.35h12.2M478.00 253.25v12.2M492.65 261.35h12.2M498.75 255.25v12.2M512.65 263.60h12.2M518.75 257.50v12.2M143.10 262.90h12.2M149.20 256.80v12.2M163.90 264.85h12.2M170.00 258.75v12.2M184.40 266.10h12.2M190.50 260.00v12.2M204.65 267.10h12.2M210.75 261.00v12.2M224.40 268.10h12.2M230.50 262.00v12.2M245.40 269.60h12.2M251.50 263.50v12.2M265.90 270.35h12.2M272.00 264.25v12.2M286.40 272.10h12.2M292.50 266.00v12.2M306.90 273.10h12.2M313.00 267.00v12.2M326.90 275.10h12.2M333.00 269.00v12.2M347.65 276.10h12.2M353.75 270.00v12.2M368.40 278.10h12.2M374.50 272.00v12.2M388.90 279.35h12.2M395.00 273.25v12.2M408.40 281.10h12.2M414.50 275.00v12.2M428.90 283.10h12.2M435.00 277.00v12.2M450.15 283.60h12.2M456.25 277.50v12.2M470.90 284.35h12.2M477.00 278.25v12.2M490.90 286.35h12.2M497.00 280.25v12.2M510.90 287.60h12.2M517.00 281.50v12.2M141.40 288.10h12.2M147.50 282.00v12.2M160.90 289.35h12.2M167.00 283.25v12.2M181.40 290.60h12.2M187.50 284.50v12.2M202.15 292.35h12.2M208.25 286.25v12.2M222.15 293.35h12.2M228.25 287.25v12.2M243.15 294.35h12.2M249.25 288.25v12.2M263.40 295.85h12.2M269.50 289.75v12.2M283.90 297.60h12.2M290.00 291.50v12.2M303.90 299.85h12.2M310.00 293.75v12.2M324.40 301.35h12.2M330.50 295.25v12.2M345.15 302.35h12.2M351.25 296.25v12.2M366.40 303.60h12.2M372.50 297.50v12.2M386.90 305.10h12.2M393.00 299.00v12.2M406.90 306.85h12.2M413.00 300.75v12.2M426.90 308.10h12.2M433.00 302.00v12.2M447.65 309.35h12.2M453.75 303.25v12.2M468.40 310.60h12.2M474.50 304.50v12.2M489.40 312.35h12.2M495.50 306.25v12.2M508.90 313.60h12.2M515.00 307.50v12.2M159.40 314.85h12.2M165.50 308.75v12.2M180.15 316.10h12.2M186.25 310.00v12.2M200.65 317.35h12.2M206.75 311.25v12.2M221.40 319.35h12.2M227.50 313.25v12.2M242.65 320.85h12.2M248.75 314.75v12.2M263.15 321.85h12.2M269.25 315.75v12.2M282.65 323.60h12.2M288.75 317.50v12.2M302.65 325.10h12.2M308.75 319.00v12.2M323.40 326.85h12.2M329.50 320.75v12.2M343.40 328.10h12.2M349.50 322.00v12.2M364.40 328.60h12.2M370.50 322.50v12.2M385.15 330.60h12.2M391.25 324.50v12.2M405.15 332.35h12.2M411.25 326.25v12.2M425.90 333.60h12.2M432.00 327.50v12.2M445.90 335.10h12.2M452.00 329.00v12.2M466.90 336.35h12.2M473.00 330.25v12.2M489.15 341.10h12.2M495.25 335.00v12.2M157.65 340.10h12.2M163.75 334.00v12.2M177.65 341.85h12.2M183.75 335.75v12.2M198.40 342.60h12.2M204.50 336.50v12.2M220.15 344.60h12.2M226.25 338.50v12.2M240.15 346.35h12.2M246.25 340.25v12.2M260.15 348.10h12.2M266.25 342.00v12.2M281.40 349.35h12.2M287.50 343.25v12.2M300.90 350.60h12.2M307.00 344.50v12.2M321.90 351.35h12.2M328.00 345.25v12.2M342.00 352.80h12.2M348.10 346.70v12.2M362.20 354.60h12.2M368.30 348.50v12.2M382.30 356.10h12.2M388.40 350.00v12.2M402.65 357.60h12.2M408.75 351.50v12.2M423.40 359.60h12.2M429.50 353.50v12.2M443.90 361.85h12.2M450.00 355.75v12.2M463.90 362.60h12.2M470.00 356.50v12.2M485.15 363.60h12.2M491.25 357.50v12.2M196.90 369.10h12.2M203.00 363.00v12.2M218.15 370.10h12.2M224.25 364.00v12.2M239.65 371.60h12.2M245.75 365.50v12.2M260.15 372.85h12.2M266.25 366.75v12.2M280.15 374.35h12.2M286.25 368.25v12.2M300.15 376.10h12.2M306.25 370.00v12.2M320.90 377.35h12.2M327.00 371.25v12.2M340.15 378.60h12.2M346.25 372.50v12.2M360.15 380.10h12.2M366.25 374.00v12.2M380.90 382.35h12.2M387.00 376.25v12.2M401.40 383.60h12.2M407.50 377.50v12.2M421.40 385.10h12.2M427.50 379.00v12.2M441.65 386.85h12.2M447.75 380.75v12.2M216.90 396.85h12.2M223.00 390.75v12.2M235.90 397.35h12.2M242.00 391.25v12.2M255.65 398.85h12.2M261.75 392.75v12.2M275.90 400.60h12.2M282.00 394.50v12.2M296.40 402.60h12.2M302.50 396.50v12.2M317.15 403.35h12.2M323.25 397.25v12.2M337.65 404.35h12.2M343.75 398.25v12.2M357.15 405.85h12.2M363.25 399.75v12.2M377.65 407.10h12.2M383.75 401.00v12.2M398.90 408.85h12.2M405.00 402.75v12.2M419.40 410.10h12.2M425.50 404.00v12.2M296.90 427.60h12.2M303.00 421.50v12.2M317.65 428.85h12.2M323.75 422.75v12.2M336.40 430.10h12.2M342.50 424.00v12.2" stroke="#ff0000" stroke-width="3" fill="none"/>
<path d="M114.6 0.7V445.79999999999995M559.4 0.7V445.79999999999995" fill="none" stroke="#262626" stroke-width="1"/>
<path d="M114.6 1.2H559.4M114.6 445.4H559.4" fill="none" stroke="#3c3c3c" stroke-width="0.85"/>
<path d="M165.93 445.4v-4.6M165.93 1.2v4.6M114.6 394.20h4.6M559.4 394.20h-4.6M337.00 445.4v-4.6M337.00 1.2v4.6M114.6 223.30h4.6M559.4 223.30h-4.6M508.07 445.4v-4.6M508.07 1.2v4.6M114.6 52.40h4.6M559.4 52.40h-4.6" stroke="#262626" stroke-width="1.1" fill="none"/>
<path d="M131.71 445.4v-1.6M131.71 1.2v1.6M114.6 428.38h1.6M559.4 428.38h-1.6M200.14 445.4v-1.6M200.14 1.2v1.6M114.6 360.02h1.6M559.4 360.02h-1.6M234.36 445.4v-1.6M234.36 1.2v1.6M114.6 325.84h1.6M559.4 325.84h-1.6M268.57 445.4v-1.6M268.57 1.2v1.6M114.6 291.66h1.6M559.4 291.66h-1.6M302.78 445.4v-1.6M302.78 1.2v1.6M114.6 257.48h1.6M559.4 257.48h-1.6M371.22 445.4v-1.6M371.22 1.2v1.6M114.6 189.12h1.6M559.4 189.12h-1.6M405.43 445.4v-1.6M405.43 1.2v1.6M114.6 154.94h1.6M559.4 154.94h-1.6M439.64 445.4v-1.6M439.64 1.2v1.6M114.6 120.76h1.6M559.4 120.76h-1.6M473.86 445.4v-1.6M473.86 1.2v1.6M114.6 86.58h1.6M559.4 86.58h-1.6M542.29 445.4v-1.6M542.29 1.2v1.6M114.6 18.22h1.6M559.4 18.22h-1.6" stroke="#555" stroke-width="0.7" fill="none"/>
<text x="165.93" y="491" font-size="42" text-anchor="middle">-50</text>
<text x="104.5" y="405.00" font-size="42" text-anchor="end">-50</text>
<text x="337.00" y="491" font-size="42" text-anchor="middle">0</text>
<text x="104.5" y="234.10" font-size="42" text-anchor="end">0</text>
<text x="508.07" y="491" font-size="42" text-anchor="middle">50</text>
<text x="104.5" y="63.20" font-size="42" text-anchor="end">50</text>
<text transform="translate(336.6,542.6) scale(1.13,1)" font-size="43" font-style="italic" text-anchor="middle">α</text>
<text transform="translate(31.4,223.6) rotate(-90) scale(1.13,1)" font-size="43" font-style="italic" text-anchor="middle">β</text>
<rect x="570.6" y="0.4" width="228.8" height="100.3" fill="#fff" stroke="#3a3a3a" stroke-width="0.95"/>
<path d="M590.3000000000001 14.1l7.8 7.8m0 -7.8l-7.8 7.8" stroke="#000" stroke-width="2.9" fill="none"/>
<circle cx="594.2" cy="50.6" r="5.4" stroke="#0000ff" stroke-width="3" fill="none"/>
<path d="M588.1 82.9h12.2M594.2 76.80000000000001v12.2" stroke="#ff0000" stroke-width="3" fill="none"/>
<text transform="translate(617.6,24.6) scale(1.118,1)" font-size="27.2" style="fill:#000;stroke:#000;stroke-width:0.3">Test data</text>
<text transform="translate(617.2,56.9) scale(1.052,1)" font-size="27.2" style="fill:#000;stroke:#000;stroke-width:0.3">Neural network</text>
<text transform="translate(617.2,89.3) scale(1.076,1)" font-size="27.2" style="fill:#000;stroke:#000;stroke-width:0.3">Interpolation</text>
</svg>
</body></html>
